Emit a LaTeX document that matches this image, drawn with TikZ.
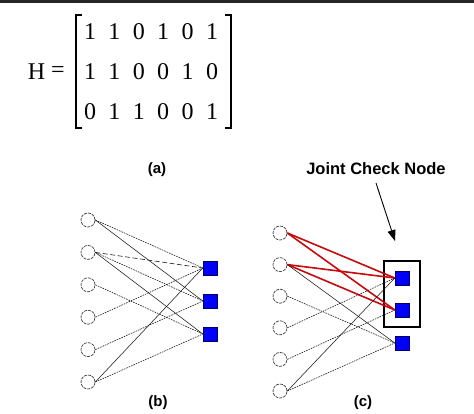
\documentclass[tikz,border=0pt]{standalone}
\usepackage{fontspec}
\setmainfont{Liberation Serif}
\setsansfont{Liberation Sans}
\usetikzlibrary{arrows.meta}
\definecolor{sqblue}{RGB}{0,0,250}
\definecolor{redline}{RGB}{200,10,15}
\definecolor{edgegray}{RGB}{25,25,25}
\begin{document}
\begin{tikzpicture}[x=1pt,y=-1pt,
  vnode/.style={circle,draw=black!75,dash pattern=on 3pt off 1pt,line width=0.7pt,minimum size=14pt,inner sep=0pt},
  cnode/.style={rectangle,fill=sqblue,draw=blue!40!black,line width=0.4pt,minimum size=14pt,inner sep=0pt},
  dotedge/.style={draw=edgegray,dash pattern=on 1.6pt off 1pt,line width=0.6pt},
  soledge/.style={draw=edgegray,line width=0.55pt},
  dashedge/.style={draw=edgegray,dash pattern=on 5pt off 2.5pt,line width=0.6pt},
  rededge/.style={draw=redline,line width=1.6pt},
  digit/.style={font=\fontsize{24}{28}\selectfont,inner sep=0pt},
  lab/.style={font=\sffamily\bfseries\fontsize{15}{17}\selectfont,inner sep=0pt},
  bracket/.style={line width=1.2pt,draw=black}]
\useasboundingbox (0,0) rectangle (474,413);
% top rule
\draw[line width=2.5pt,draw=black!85] (0,1.3) -- (474,1.3);
% matrix
\node[digit] (Hlab) at (36.5,72) {H};
\node[digit] (eq) at (58,72) {=};
\draw[bracket] (82,15) -- (76,15) -- (76,128) -- (82,128);
\draw[bracket] (225,15) -- (231,15) -- (231,128) -- (225,128);
\foreach \r/\yy/\row in {1/32/{1,1,0,1,0,1},2/72/{1,1,0,0,1,0},3/112/{0,1,1,0,0,1}}{
  \foreach \d [count=\c] in \row {
    \node[digit] (m\r\c) at ({90+24.4*(\c-1)},\yy) {\d};
  }
}
\node[lab] (la) at (157,170) {(a)};
% panel (b)
\foreach \i in {1,...,6}{
  \node[vnode] (bv\i) at (88,{220+32.4*(\i-1)}) {};
}
\node[cnode] (bc1) at (210,268) {};
\node[cnode] (bc2) at (210,301) {};
\node[cnode] (bc3) at (210,334) {};
\draw[dotedge] (bv1.east) -- (bc1.west);
\draw[soledge] (bv1.east) -- (bc2.west);
\draw[dashedge] (bv2.east) -- (bc1.west);
\draw[dotedge] (bv2.east) -- (bc2.west);
\draw[soledge] (bv2.east) -- (bc3.west);
\draw[dotedge] (bv3.east) -- (bc3.west);
\draw[dotedge] (bv4.east) -- (bc1.west);
\draw[dotedge] (bv5.east) -- (bc2.west);
\draw[soledge] (bv6.east) -- (bc1.west);
\draw[dotedge] (bv6.east) -- (bc3.west);
\node[lab] (lb) at (158,403) {(b)};
% panel (c)
\foreach \i in {1,...,6}{
  \node[vnode] (cv\i) at (280,{233+31.6*(\i-1)}) {};
}
\node[cnode] (cc1) at (402,278) {};
\node[cnode] (cc2) at (402,310) {};
\node[cnode] (cc3) at (402,343) {};
\draw[line width=1.8pt] (384,261) rectangle (420,327);
\draw[rededge] (cv1.east) -- (cc1.west);
\draw[rededge] (cv1.east) -- (cc2.west);
\draw[rededge] (cv2.east) -- (cc1.west);
\draw[rededge] (cv2.east) -- (cc2.west);
\draw[soledge] (cv2.east) -- (cc3.west);
\draw[dotedge] (cv3.east) -- (cc3.west);
\draw[dotedge] (cv4.east) -- (cc1.west);
\draw[dotedge] (cv5.east) -- (cc2.west);
\draw[soledge] (cv6.east) -- (cc1.west);
\draw[dotedge] (cv6.east) -- (cc3.west);
\node[lab] (lc) at (363,403) {(c)};
\node[font=\sffamily\bfseries\fontsize{16.5}{18}\selectfont,inner sep=0pt] (jcn) at (376,169) {Joint Check Node};
\coordinate (arrs) at (376,183);
\coordinate (arre) at (395,241);
\draw[line width=0.9pt,-{Triangle[length=11pt,width=8pt]}] (arrs) -- (arre);
\end{tikzpicture}
\end{document}
